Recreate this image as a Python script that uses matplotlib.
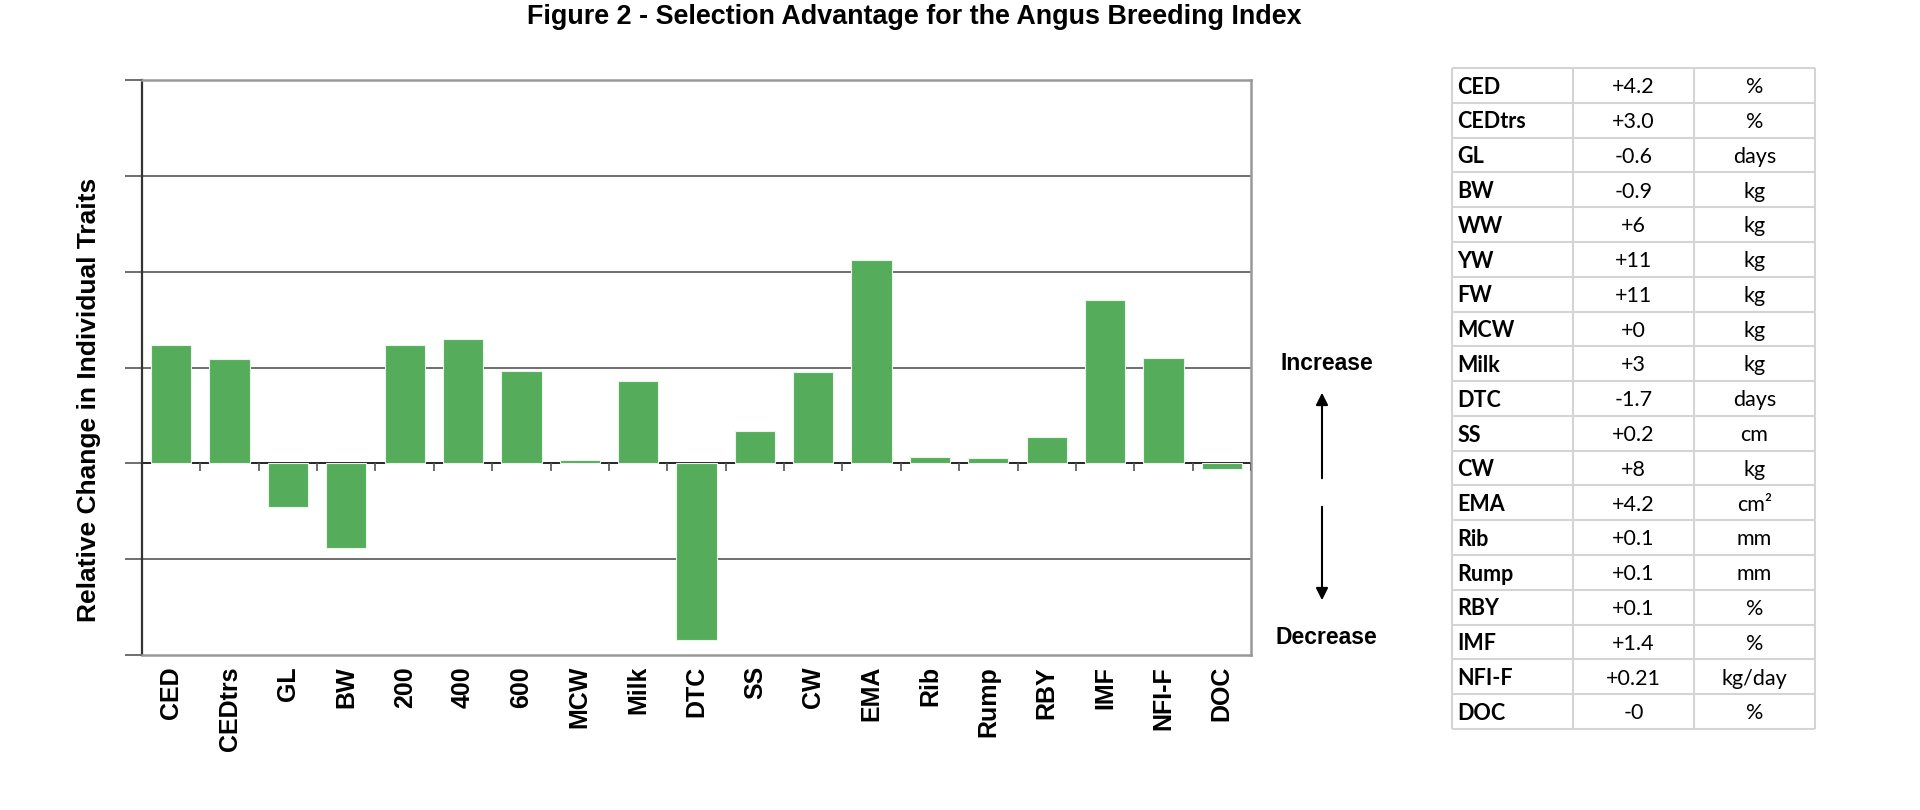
import numpy as np
import matplotlib
matplotlib.use('Agg')
import matplotlib.pyplot as plt

# traits on the bar chart and their relative change (in gridline units)
traits = ['CED', 'CEDtrs', 'GL', 'BW', '200', '400', '600', 'MCW', 'Milk', 'DTC',
          'SS', 'CW', 'EMA', 'Rib', 'Rump', 'RBY', 'IMF', 'NFI-F', 'DOC']
rel_change = [1.23, 1.09, -0.46, -0.88, 1.24, 1.30, 0.96, 0.035, 0.86, -1.84,
              0.34, 0.95, 2.12, 0.07, 0.06, 0.27, 1.70, 1.10, -0.06]

# table on the right
table_traits = ['CED', 'CEDtrs', 'GL', 'BW', 'WW', 'YW', 'FW', 'MCW', 'Milk', 'DTC',
                'SS', 'CW', 'EMA', 'Rib', 'Rump', 'RBY', 'IMF', 'NFI-F', 'DOC']
table_values = ['+4.2', '+3.0', '-0.6', '-0.9', '+6', '+11', '+11', '+0', '+3', '-1.7',
                '+0.2', '+8', '+4.2', '+0.1', '+0.1', '+0.1', '+1.4', '+0.21', '-0']
table_units = ['%', '%', 'days', 'kg', 'kg', 'kg', 'kg', 'kg', 'kg', 'days',
               'cm', 'kg', 'cm²', 'mm', 'mm', '%', '%', 'kg/day', '%']

W, H = 1920, 810
fig = plt.figure(figsize=(W / 100, H / 100), dpi=100)
fig.patch.set_facecolor('white')
plt.rcParams['font.family'] = ['Liberation Sans', 'DejaVu Sans']

#Bar chart
ax = fig.add_axes([142 / W, 1 - 655 / H, (1251 - 142) / W, (655 - 80) / H])
x = np.arange(len(traits))
ax.bar(x, rel_change, width=0.69, color='#55ad5c', edgecolor='#e8f5e8',
       linewidth=0.8, zorder=3)
ax.set_xlim(-0.5, len(traits) - 0.5)
ax.set_ylim(-2, 4)
ax.set_yticks(np.arange(-2, 5))
ax.set_yticklabels([])
ax.tick_params(axis='y', length=12, width=1.2, color='#555555', direction='out')
for yv in [-1, 1, 2, 3]:
    ax.axhline(yv, color='#555555', linewidth=1.2, zorder=1)
ax.axhline(0, color='black', linewidth=1.2, zorder=2)
# category boundary ticks on the zero line
ax.vlines(x[1:] - 0.5, 0, -0.075, color='#555555', linewidth=1.2, zorder=4)
ax.vlines(len(traits) - 0.5, 0, -0.075, color='#555555', linewidth=1.2, zorder=4)

ax.set_xticks(x)
ax.set_xticklabels(traits, rotation=90, fontsize=18, fontweight='bold', va='top')
ax.tick_params(axis='x', length=0, pad=8)

ax.spines['left'].set_color('#333333')
ax.spines['left'].set_linewidth(1.6)
for side in ['top', 'right', 'bottom']:
    ax.spines[side].set_color('#999999')
    ax.spines[side].set_linewidth(1.8)

fig.text(89 / W, 1 - 400 / H, 'Relative Change in Individual Traits', rotation=90,
         ha='center', va='center', fontsize=19, fontweight='bold')
fig.text(914 / W, 1 - 17 / H, 'Figure 2 - Selection Advantage for the Angus Breeding Index',
         ha='center', va='center', fontsize=19.4, fontweight='bold')

#Increase / Decrease arrows
fig.text(1327 / W, 1 - 364 / H, 'Increase', ha='center', va='center',
         fontsize=16.5, fontweight='bold')
fig.text(1326 / W, 1 - 637 / H, 'Decrease', ha='center', va='center',
         fontsize=16.5, fontweight='bold')
arrow = dict(arrowstyle='-|>', color='black', lw=1.5, mutation_scale=18)
fig.add_artist(matplotlib.patches.FancyArrowPatch(
    (1322 / W, 1 - 481 / H), (1322 / W, 1 - 390 / H),
    transform=fig.transFigure, **arrow))
fig.add_artist(matplotlib.patches.FancyArrowPatch(
    (1322 / W, 1 - 504 / H), (1322 / W, 1 - 603 / H),
    transform=fig.transFigure, **arrow))

#Table
tax = fig.add_axes([1452 / W, 1 - 729 / H, (1815 - 1452) / W, (729 - 68) / H])
n = len(table_traits)
tax.set_xlim(0, 3)
tax.set_ylim(n, 0)
tax.axis('off')
tax.hlines(np.arange(n + 1), 0, 3, color='#d4d4d4', linewidth=1.5, clip_on=False)
tax.vlines(np.arange(4), 0, n, color='#d4d4d4', linewidth=1.5, clip_on=False)
for i in range(n):
    yc = i + 0.55
    tax.text(0.045, yc, table_traits[i], ha='left', va='center', fontsize=15.5,
             fontweight='bold', family=['Lato', 'DejaVu Sans'])
    tax.text(1.5, yc, table_values[i], ha='center', va='center', fontsize=15.5,
             family=['Lato', 'DejaVu Sans'])
    tax.text(2.5, yc, table_units[i], ha='center', va='center', fontsize=15.5,
             family=['Lato', 'DejaVu Sans'])

fig.savefig('out.png', dpi=100, facecolor='white')
